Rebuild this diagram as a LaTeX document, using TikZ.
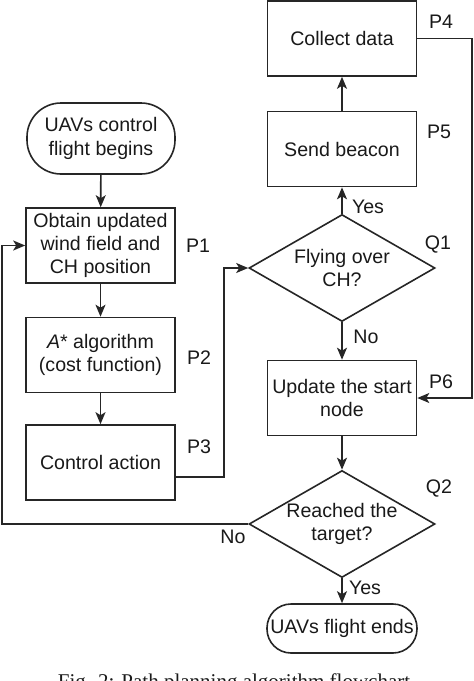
\documentclass[tikz,border=0pt]{standalone}
\usepackage{fontspec}
\setmainfont{Liberation Sans}
\newfontfamily\capfont{Liberation Serif}
\usetikzlibrary{shapes.geometric,arrows.meta}

\tikzset{
  procbox/.style={draw, rectangle, minimum width=74.5pt, minimum height=37.5pt, align=center, inner sep=1pt},
  termbox/.style={draw, rectangle, rounded corners=17pt, align=center, inner sep=1pt},
  decbox/.style={draw, diamond, aspect=1.74, minimum width=93pt, minimum height=53.5pt, align=center, inner sep=0pt},
  plabel/.style={inner sep=0pt},
  flow/.style={-{Stealth[length=6pt,width=5pt,inset=1.5pt]}},
}

\begin{document}
\begin{tikzpicture}[x=0.5pt, y=-0.5pt, line width=0.8pt, draw=black!85, text=black!90, font=\fontsize{9.8}{11.7}\selectfont]
			\useasboundingbox (0,0) rectangle (474,681);
			
			% left column
			\node[termbox, minimum width=74pt, minimum height=35.5pt] (start) at (101, 138.5) {UAVs control\\flight begins};
			\node[procbox] (p1) at (100.5, 245.5) {Obtain updated\\wind field and\\CH position};
			\node[procbox] (p2) at (100.5, 355) {\textit{A}* algorithm\\(cost function)};
			\node[procbox] (p3) at (100.5, 462.5) {Control action};
			
			% right column
			\node[procbox] (collect) at (342, 38.5) {Collect data};
			\node[procbox] (beacon) at (342, 149) {Send beacon};
			\node[decbox] (q1) at (342, 268) {Flying over\\CH?};
			\node[procbox] (update) at (342, 398) {Update the start\\node};
			\node[decbox] (q2) at (342, 524) {Reached the\\target?};
			\node[termbox, rounded corners=12pt, minimum width=75pt, minimum height=24.5pt] (finish) at (342, 628.5) {UAVs flight ends};
			
			% tags
			\node[plabel] (tp1) at (198, 246) {P1};
			\node[plabel] (tp2) at (199, 358) {P2};
			\node[plabel] (tp3) at (199, 447) {P3};
			\node[plabel] (tp4) at (441, 22) {P4};
			\node[plabel] (tp5) at (439, 132) {P5};
			\node[plabel] (tq1) at (438, 245) {Q1};
			\node[plabel] (tp6) at (441, 382) {P6};
			\node[plabel] (tq2) at (439, 489) {Q2};
			\node[plabel] (yes1) at (368, 207) {Yes};
			\node[plabel] (no1) at (366, 337) {No};
			\node[plabel] (no2) at (233, 537) {No};
			\node[plabel] (yes2) at (365, 588) {Yes};
			
			\node[anchor=base] (cap) at (234, 688) {\capfont\fontsize{10.5}{12}\selectfont Fig. 2: Path planning algorithm flowchart};
			
			\draw[flow] (start) to (p1);
			\draw[flow] (p1) to (p2);
			\draw[flow] (p2) to (p3);
			\draw[flow] ([yshift=-7.25pt]p3.east) -| (224, 268) -- (q1.west);
			\draw[flow] (q1.north) to (beacon.south);
			\draw[flow] (beacon) to (collect);
			\draw[flow] (collect.east) -| (472, 398) -- (update.east);
			\draw[flow] (q1.south) to (update.north);
			\draw[flow] (update.south) to (q2.north);
			\draw[flow] (q2.south) to (finish.north);
			\draw[flow] (q2.west) -| (2, 245.5) -- (p1.west);
			\end{tikzpicture}
\end{document}
